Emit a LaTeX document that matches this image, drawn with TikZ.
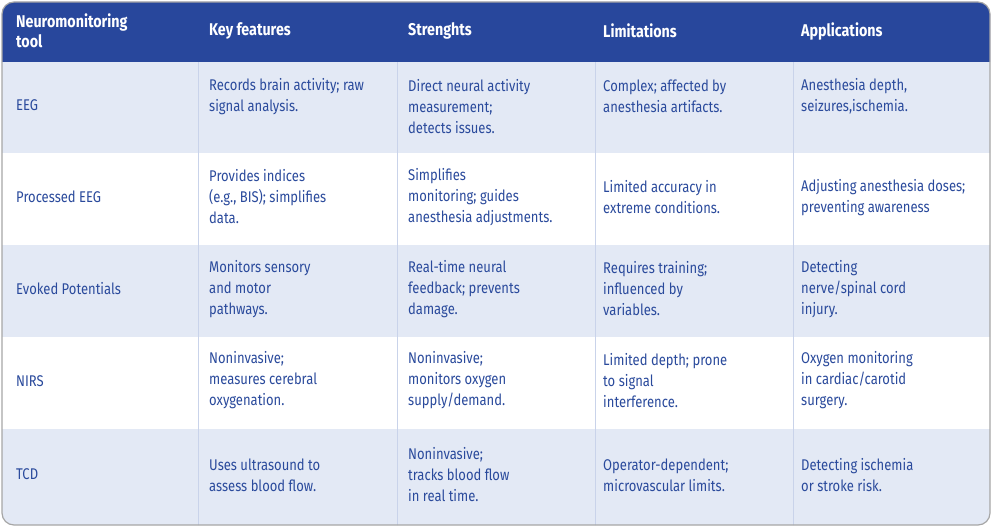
\documentclass[tikz,border=0pt]{standalone}
\usepackage{fontspec}
\setmainfont[FakeStretch=0.84]{Fira Sans}
\definecolor{hdr}{HTML}{28479C}
\definecolor{rowb}{HTML}{E3E9F5}
\definecolor{txt}{HTML}{2A4A9C}
\definecolor{grid}{HTML}{C9D3EA}
\begin{document}
\begin{tikzpicture}[x=1pt,y=-1pt,
  cell/.style={anchor=west,align=left,inner sep=0pt,text=txt,font=\fontsize{15.5}{21}\selectfont},
  head/.style={anchor=west,align=left,inner sep=0pt,text=white,font=\bfseries\fontsize{17}{20}\selectfont}]
\useasboundingbox (0,0) rectangle (992,527);
\begin{scope}
\clip[rounded corners=12] (2,2) rectangle (990,525);
\fill[white] (0,0) rectangle (992,527);
\fill[hdr] (0,0) rectangle (992,62);
\fill[rowb] (0,62) rectangle (992,153);
\fill[rowb] (0,245) rectangle (992,337);
\fill[rowb] (0,429) rectangle (992,527);
\foreach \x in {198,397,595,793} \draw[grid,line width=0.8] (\x,62) -- (\x,527);
\end{scope}
\draw[gray!70,line width=1.2,rounded corners=12] (2,2) rectangle (990,525);
% header
\node[head] (h1) at (16,31) {Neuromonitoring\\tool};
\node[head] (h2) at (209,31) {Key features};
\node[head] (h3) at (408,31) {Strenghts};
\node[head] (h4) at (603,31) {Limitations};
\node[head] (h5) at (801,31) {Applications};
% row 1
\node[cell] (a1) at (16,105) {EEG};
\node[cell] (a2) at (209,96.5) {Records brain activity; raw\\signal analysis.};
\node[cell] (a3) at (408,107) {Direct neural activity\\measurement;\\detects issues.};
\node[cell] (a4) at (603,96.5) {Complex; affected by\\anesthesia artifacts.};
\node[cell] (a5) at (801,96.5) {Anesthesia depth,\\seizures,ischemia.};
% row 2
\node[cell] (b1) at (16,197) {Processed EEG};
\node[cell] (b2) at (209,197) {Provides indices\\(e.g., BIS); simplifies\\data.};
\node[cell] (b3) at (408,197) {Simplifies\\monitoring; guides\\anesthesia adjustments.};
\node[cell] (b4) at (603,197.5) {Limited accuracy in\\extreme conditions.};
\node[cell] (b5) at (801,197.5) {Adjusting anesthesia doses;\\preventing awareness};
% row 3
\node[cell] (c1) at (16,289) {Evoked Potentials};
\node[cell] (c2) at (209,289) {Monitors sensory\\and motor\\pathways.};
\node[cell] (c3) at (408,289) {Real-time neural\\feedback; prevents\\damage.};
\node[cell] (c4) at (603,289) {Requires training;\\influenced by\\variables.};
\node[cell] (c5) at (801,289) {Detecting\\nerve/spinal cord\\injury.};
% row 4
\node[cell] (d1) at (16,381) {NIRS};
\node[cell] (d2) at (209,380.5) {Noninvasive;\\measures cerebral\\oxygenation.};
\node[cell] (d3) at (408,380.5) {Noninvasive;\\monitors oxygen\\supply/demand.};
\node[cell] (d4) at (603,380.5) {Limited depth; prone\\to signal\\interference.};
\node[cell] (d5) at (801,380.5) {Oxygen monitoring\\in cardiac/carotid\\surgery.};
% row 5
\node[cell] (e1) at (16,474) {TCD};
\node[cell] (e2) at (209,475) {Uses ultrasound to\\assess blood flow.};
\node[cell] (e3) at (408,474.5) {Noninvasive;\\tracks blood flow\\in real time.};
\node[cell] (e4) at (603,475) {Operator-dependent;\\microvascular limits.};
\node[cell] (e5) at (801,475) {Detecting ischemia\\or stroke risk.};
\end{tikzpicture}
\end{document}
